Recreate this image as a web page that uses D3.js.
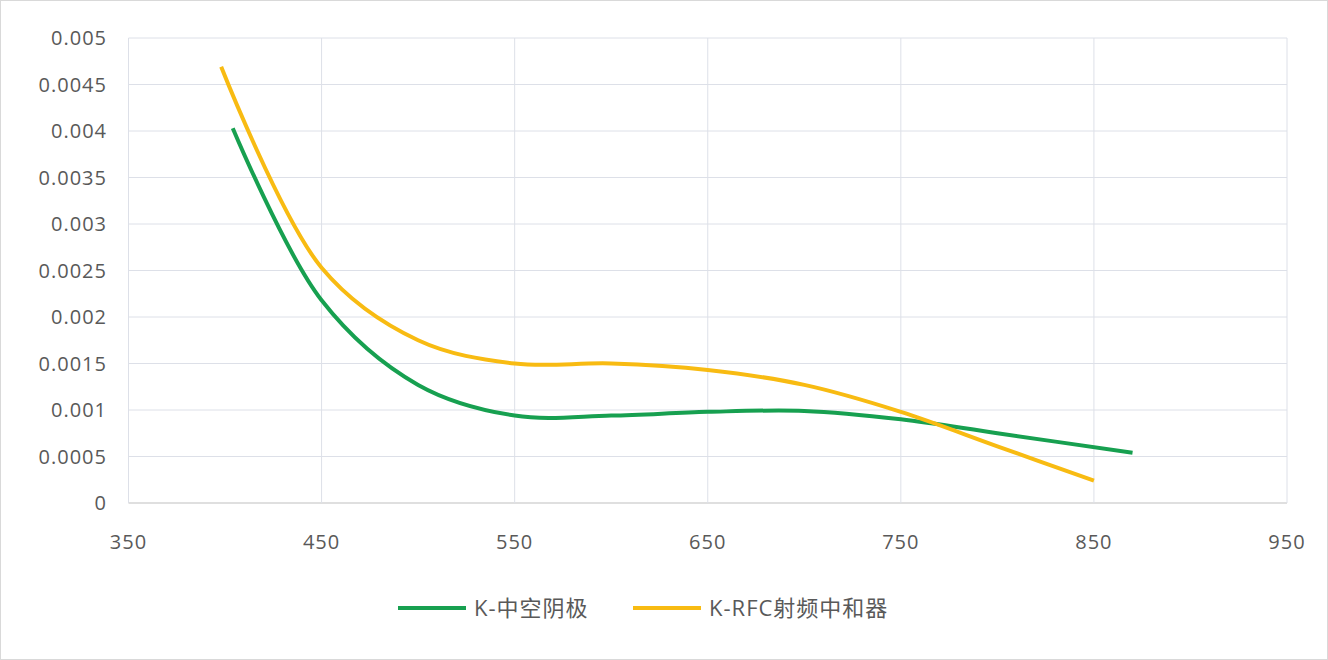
<!DOCTYPE html>
<html><head><meta charset="utf-8">
<script src="https://cdn.jsdelivr.net/npm/d3@7"></script>
<style>body{margin:0;background:#fff}svg{font-family:"Open Sans","Noto Sans CJK SC",sans-serif}</style>
</head><body><svg width="1328" height="660"></svg>
<script>
// series
var greenX = [404, 450, 500, 550, 600, 650, 700, 750, 800, 870],
    greenY = [0.00403, 0.00218, 0.00127, 0.00094, 0.00094, 0.00098, 0.00099, 0.0009, 0.00075, 0.00054],
    yellowX = [398, 450, 500, 550, 600, 650, 700, 750, 800, 850],
    yellowY = [0.00469, 0.00253, 0.00175, 0.0015, 0.0015, 0.00143, 0.00127, 0.00098, 0.00061, 0.00024],
    xTicks = [350, 450, 550, 650, 750, 850, 950],
    yTicks = [0, 0.0005, 0.001, 0.0015, 0.002, 0.0025, 0.003, 0.0035, 0.004, 0.0045, 0.005],
    names = ["K-中空阴极", "K-RFC射频中和器"],
    colors = ["#17a050", "#f8bb12"];

var svg = d3.select("svg");
svg.append("rect").attr("x", 0.5).attr("y", 0.5).attr("width", 1327).attr("height", 659)
  .attr("fill", "none").attr("stroke", "#d9d9d9");

var x = d3.scaleLinear().domain([350, 950]).range([128.5, 1287]);
var y = d3.scaleLinear().domain([0, 0.005]).range([503, 38]);

var g = svg.append("g");
g.selectAll(".gy").data(yTicks).join("line")
  .attr("x1", x(350)).attr("x2", x(950)).attr("y1", d => y(d)).attr("y2", d => y(d))
  .attr("stroke", d => d === 0 ? "#bfbfbf" : "#dde0e8");
g.selectAll(".gx").data(xTicks).join("line")
  .attr("y1", y(0)).attr("y2", y(0.005)).attr("x1", d => x(d)).attr("x2", d => x(d))
  .attr("stroke", "#dde0e8");

g.selectAll(".ty").data(yTicks).join("text")
  .attr("x", 107).attr("y", d => y(d)).attr("dy", "0.35em").attr("text-anchor", "end")
  .attr("font-size", 20).attr("letter-spacing", 1).attr("fill", "#595959").text(d => String(d));
g.selectAll(".tx").data(xTicks).join("text")
  .attr("x", d => x(d)).attr("y", 549).attr("text-anchor", "middle")
  .attr("font-size", 20).attr("letter-spacing", 1).attr("fill", "#595959").text(d => d);

var line = d3.line().x(d => x(d[0])).y(d => y(d[1])).curve(d3.curveCatmullRom.alpha(0.5));
[[greenX, greenY], [yellowX, yellowY]].forEach(function (s, i) {
  g.append("path").datum(d3.zip(s[0], s[1])).attr("d", line)
    .attr("fill", "none").attr("stroke", colors[i]).attr("stroke-width", 4);
});

var lg = svg.append("g");
var lx = [398, 633];
names.forEach(function (n, i) {
  lg.append("line").attr("x1", lx[i]).attr("x2", lx[i] + 68).attr("y1", 608).attr("y2", 608)
    .attr("stroke", colors[i]).attr("stroke-width", 4);
  lg.append("text").attr("x", lx[i] + 76).attr("y", 608).attr("dy", "0.35em")
    .attr("font-size", 22).attr("letter-spacing", 1).attr("fill", "#595959").text(n);
});
</script></body></html>
